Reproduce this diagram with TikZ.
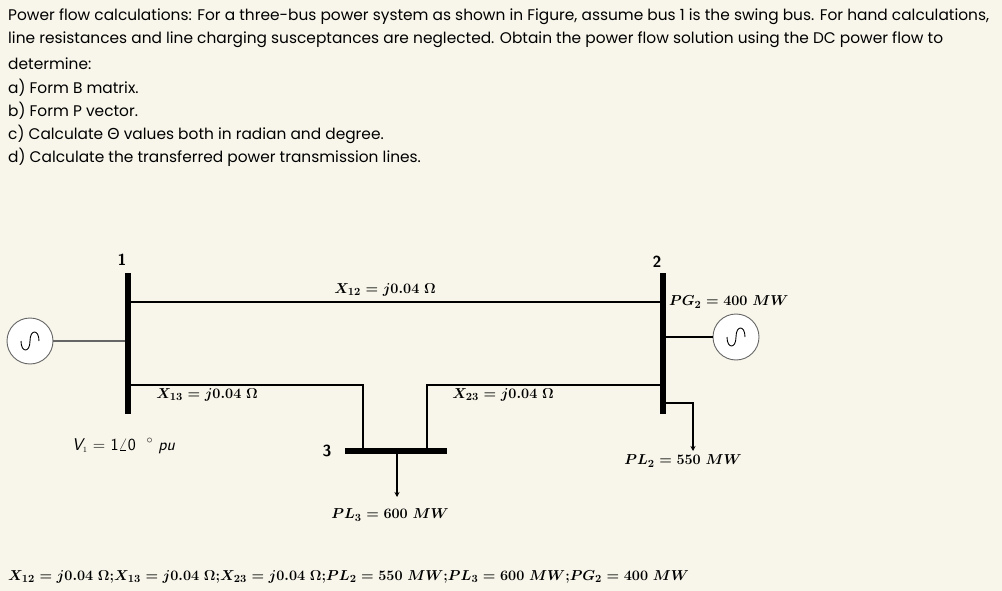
\documentclass[tikz,border=0pt]{standalone}
\usepackage{fontspec}
\newfontfamily\poppins{Poppins}
\newfontfamily\latofont{Lato}
\usepackage{amsmath}
\usetikzlibrary{arrows.meta}
\definecolor{bg}{HTML}{F8F6EA}
\begin{document}
\begin{tikzpicture}[x=1pt,y=-1pt,
  txt/.style={anchor=west,inner sep=0pt,font=\poppins\fontsize{15.4}{17}\selectfont},
  mth/.style={inner sep=0pt,font=\fontsize{15.5}{18}\selectfont\boldmath},
  lbl/.style={inner sep=0pt,font=\sffamily\bfseries\fontsize{16}{18}\selectfont},
  vbus/.style={line width=6pt},
  ln/.style={line width=1.3pt},
  gen/.style={circle,draw=black!60,fill=white,minimum size=46pt,inner sep=0pt,line width=0.9pt},
  arr/.style={ln,-{Stealth[length=5pt,width=5pt]}}]
\useasboundingbox[fill=bg] (0,0) rectangle (1002,591);
\node[txt] (t1) at (8,17) {Power flow calculations: For a three-bus power system as shown in Figure, assume bus 1 is the swing bus. For hand calculations,};
\node[txt] (t2) at (8,40) {line resistances and line charging susceptances are neglected. Obtain the power flow solution using the DC power flow to};
\node[txt] (t3) at (8,64) {determine:};
\node[txt] (t4) at (8,88) {a) Form B matrix.};
\node[txt] (t5) at (8,111) {b) Form P vector.};
\node[txt] (t6) at (8,134) {c) Calculate {\latofont Θ} values both in radian and degree.};
\node[txt] (t7) at (8,157) {d) Calculate the transferred power transmission lines.};
% buses
\coordinate (b1t) at (128,273); \coordinate (b1b) at (128,414);
\coordinate (b2t) at (663,273); \coordinate (b2b) at (663,414);
\draw[vbus] (b1t) -- (b1b);
\draw[vbus] (b2t) -- (b2b);
\coordinate (b3l) at (345,451); \coordinate (b3r) at (447,451);
\draw[vbus] (b3l) -- (b3r);
% lines
\coordinate (a12) at (131,302); \coordinate (e12) at (660,302);
\draw[ln] (a12) -- (e12);
\coordinate (a13) at (131,385); \coordinate (c13) at (363,385); \coordinate (e13) at (363,448);
\draw[ln] (a13) -- (c13) -- (e13);
\coordinate (a23) at (427,448); \coordinate (c23) at (427,385); \coordinate (e23) at (660,385);
\draw[ln] (a23) -- (c23) -- (e23);
% generators
\node[gen] (g1) at (30,341) {};
\draw[ln,black!60] (g1) -- (125,341);
\node[gen] (g2) at (736,337) {};
\draw[ln] (666,337) -- (g2);
\foreach \g in {g1,g2}{\draw[line width=0.9pt] ([xshift=-9pt,yshift=0pt]\g.center) .. controls ([xshift=-9pt,yshift=-12pt]\g.center) and ([xshift=0pt,yshift=-12pt]\g.center) .. (\g.center) .. controls ([yshift=12pt]\g.center) and ([xshift=9pt,yshift=12pt]\g.center) .. ([xshift=9pt]\g.center);}
% loads
\coordinate (l2a) at (666,403); \coordinate (l2b) at (693,403); \coordinate (l2c) at (693,451);
\draw[arr] (l2a) -- (l2b) -- (l2c);
\coordinate (l3a) at (397,454); \coordinate (l3b) at (397,497);
\draw[arr] (l3a) -- (l3b);
% labels
\node[lbl] (n1) at (122,260) {1};
\node[lbl] (n2) at (657,262) {2};
\node[lbl] (n3) at (327,451) {3};
\node[mth] (x12) at (385,290) {$X_{12}=j0.04\ \Omega$};
\node[mth] (x13) at (207,395) {$X_{13}=j0.04\ \Omega$};
\node[mth] (x23) at (503,395) {$X_{23}=j0.04\ \Omega$};
\node[mth,anchor=west] (pg2) at (669,302) {$PG_2=400\ MW$};
\node[mth] (pl2) at (683,461) {$PL_2=550\ MW$};
\node[mth] (pl3) at (390,515) {$PL_3=600\ MW$};
\node[inner sep=0pt,font=\sffamily\fontsize{17}{19}\selectfont,anchor=west] (v1) at (72,446) {\itshape V$_{\scriptscriptstyle 1}$\upshape\ = 1$\angle$0 \ $^\circ$ \itshape pu};
\node[mth,anchor=west] (bot) at (8,577) {$X_{12}=j0.04\ \Omega{;}X_{13}=j0.04\ \Omega{;}X_{23}=j0.04\ \Omega{;}PL_2=550\ MW{;}PL_3=600\ MW{;}PG_2=400\ MW$};
\end{tikzpicture}
\end{document}
